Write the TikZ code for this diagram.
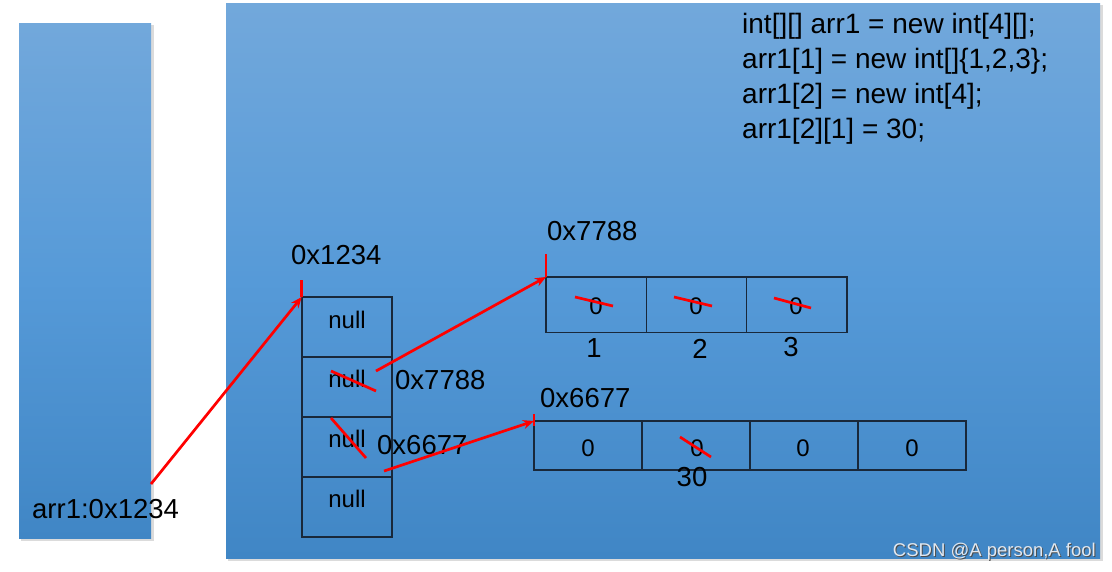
\documentclass[tikz,border=0pt]{standalone}
\usepackage{fontspec}
\setmainfont{Liberation Sans}
\usetikzlibrary{arrows.meta}
\definecolor{bgtop}{RGB}{114,168,219}
\definecolor{bgmid}{RGB}{86,154,216}
\definecolor{bgbot}{RGB}{64,134,197}
\definecolor{boxline}{RGB}{25,40,58}
\definecolor{wmark}{RGB}{225,232,240}
\tikzset{
  panel/.style={top color=bgtop, bottom color=bgbot, middle color=bgmid},
  shadowbox/.style={fill=black, opacity=0.14},
  cellbox/.style={draw=boxline, line width=1.6pt, inner sep=0pt, outer sep=0pt},
  nullcell/.style={cellbox, minimum width=90.5pt, minimum height=60pt},
  acell/.style={cellbox, minimum width=100.3pt, minimum height=55.5pt},
  bcell/.style={cellbox, minimum width=108pt, minimum height=49pt},
  bigtxt/.style={inner sep=0pt, font=\fontsize{27.5}{33}\selectfont},
  celltxt/.style={inner sep=0pt, font=\fontsize{24}{28}\selectfont},
  codetxt/.style={inner sep=0pt, anchor=base west, font=\fontsize{28}{35}\selectfont},
  redarrow/.style={draw=red, line width=2.7pt, -{Stealth[length=11pt,width=9pt]}},
  redline/.style={draw=red, line width=2.7pt},
}
\begin{document}
\begin{tikzpicture}[x=1pt,y=-1pt]
\useasboundingbox (0,0) rectangle (1112,571);
\fill[white] (0,0) rectangle (1112,571);
% panels
\fill[shadowbox] (21,25) rectangle (154,541);
\shade[panel] (19,23) rectangle (151,538);
\fill[shadowbox] (228,5) rectangle (1103,561);
\shade[panel] (226,3) rectangle (1100,558);

% code
\node[codetxt] (c1) at (742,33) {int[][] arr1 = new int[4][];};
\node[codetxt] (c2) at (742,68) {arr1[1] = new int[]\{1,2,3\};};
\node[codetxt] (c3) at (742,103) {arr1[2] = new int[4];};
\node[codetxt] (c4) at (742,138) {arr1[2][1] = 30;};

% stack variable
\node[bigtxt, anchor=base west] (var) at (32,518) {arr1:0x1234};
\coordinate (varout) at (151,484);

% null column
\node[nullcell] (n1) at (347,327) {};
\node[nullcell] (n2) at (347,387) {};
\node[nullcell] (n3) at (347,447) {};
\node[nullcell] (n4) at (347,507) {};
\node[celltxt, anchor=base] (n1t) at (347,328) {null};
\node[celltxt, anchor=base] (n2t) at (347,387) {null};
\node[celltxt, anchor=base] (n3t) at (347,447) {null};
\node[celltxt, anchor=base] (n4t) at (347,507) {null};
\node[bigtxt, anchor=base west] (addr1) at (291,264) {0x1234};
\node[bigtxt, anchor=base west] (addr2s) at (395,389) {0x7788};
\node[bigtxt, anchor=base west] (addr3s) at (377,454) {0x6677};

% array 0x7788
\node[acell] (a1) at (596.2,304.7) {};
\node[acell] (a2) at (696.5,304.7) {};
\node[acell] (a3) at (796.8,304.7) {};
\node[celltxt, anchor=base] (a1t) at (596,314) {0};
\node[celltxt, anchor=base] (a2t) at (696,314) {0};
\node[celltxt, anchor=base] (a3t) at (796,314) {0};
\node[bigtxt, anchor=base] (i1) at (594,357) {1};
\node[bigtxt, anchor=base] (i2) at (700,358) {2};
\node[bigtxt, anchor=base] (i3) at (791,356) {3};
\node[bigtxt, anchor=base west] (addr2) at (547,240) {0x7788};

% array 0x6677
\node[bcell] (b1) at (588,445.5) {};
\node[bcell] (b2) at (696,445.5) {};
\node[bcell] (b3) at (804,445.5) {};
\node[bcell] (b4) at (912,445.5) {};
\node[celltxt, anchor=base] (b1t) at (588,456) {0};
\node[celltxt, anchor=base] (b2t) at (697,456) {0};
\node[celltxt, anchor=base] (b3t) at (803,456) {0};
\node[celltxt, anchor=base] (b4t) at (912,456) {0};
\node[bigtxt, anchor=base] (v30) at (692,486) {30};
\node[bigtxt, anchor=base west] (addr3) at (540,407) {0x6677};

% strikes
\draw[redline] (575,297) -- (613,306);
\draw[redline] (674,297) -- (712,306);
\draw[redline] (774,298) -- (811,308);
\draw[redline] (680,437) -- (711,457);
\draw[redline] (331,371) -- (376,391);
\draw[redline] (331,418) -- (366,458);

% ticks
\draw[redline] (n1.north west) -- ++(0,-17);
\draw[redline] (a1.north west) -- ++(0,-23);
\draw[redline] ([yshift=-5pt]b1.north west) -- ++(0,-12);

% arrows
\coordinate (n2out) at (376,371);
\coordinate (n3out) at (384,471);
\draw[redarrow] (varout) -- (n1.north west);
\draw[redarrow] (n2out) -- (a1.north west);
\draw[redarrow] (n3out) -- (b1.north west);

% watermark
\node[inner sep=0pt, anchor=base east, text=black!70, font=\fontsize{18.5}{20}\selectfont] (wms) at (1097,557) {CSDN @A person,A fool};
\node[inner sep=0pt, anchor=base east, text=wmark, font=\fontsize{18.5}{20}\selectfont] (wm) at (1096,556) {CSDN @A person,A fool};
\end{tikzpicture}
\end{document}
